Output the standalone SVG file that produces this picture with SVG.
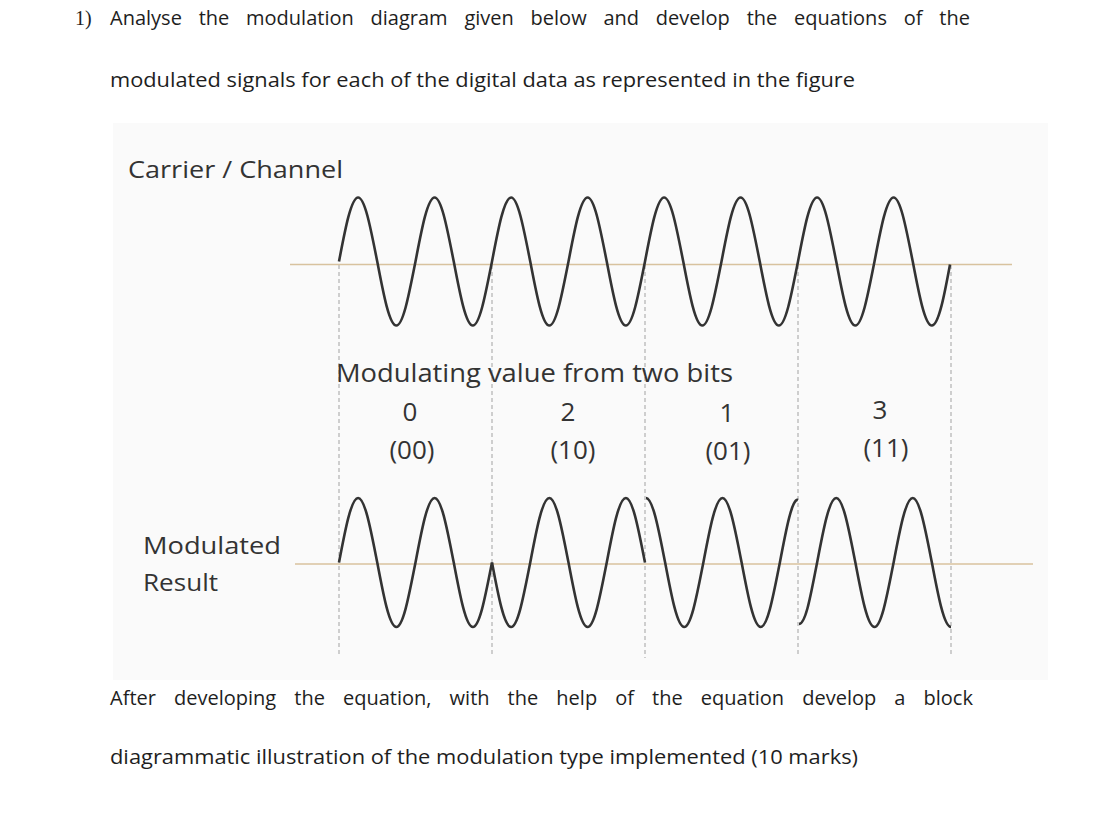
<svg xmlns="http://www.w3.org/2000/svg" width="1120" height="840" viewBox="0 0 1120 840">
<style>
.q{font-family:"Open Sans","Liberation Sans",sans-serif;font-size:20px;fill:#1e1e1e}
.lbl{font-family:"Open Sans","Liberation Sans",sans-serif;font-size:24px;fill:#333333}
.num{font-family:"Open Sans","Liberation Sans",sans-serif;font-size:26px;fill:#333333;text-anchor:middle}
.wave{fill:none;stroke:#333;stroke-width:2.6;stroke-linejoin:round;stroke-linecap:butt}
.axis{stroke:#d8c29e;stroke-width:1.6}
.div{stroke:#c4c4c4;stroke-width:1.6;stroke-dasharray:4 3}
</style>
<rect width="1120" height="840" fill="#ffffff"/>
<g id="question">
<text x="75" y="25" style="font-family:'Liberation Serif',serif;font-size:20px;fill:#1e1e1e">1)</text>
<text class="q" x="110" y="25" word-spacing="11.6">Analyse the modulation diagram given below and develop the equations of the</text>
<text class="q" x="110" y="87" textLength="745" lengthAdjust="spacingAndGlyphs">modulated signals for each of the digital data as represented in the figure</text>
<text class="q" x="110" y="705" word-spacing="12.9">After developing the equation, with the help of the equation develop a block</text>
<text class="q" x="110" y="764" textLength="748" lengthAdjust="spacingAndGlyphs">diagrammatic illustration of the modulation type implemented (10 marks)</text>
</g>
<rect id="panel" x="113" y="123" width="935" height="557" fill="#fafafa"/>
<g id="dividers">
<line class="div" x1="339" y1="265" x2="339" y2="657"/>
<line class="div" x1="492" y1="265" x2="492" y2="655"/>
<line class="div" x1="645" y1="265" x2="645" y2="658"/>
<line class="div" x1="798" y1="265" x2="798" y2="657"/>
<line class="div" x1="951" y1="265" x2="951" y2="654"/>
</g>
<g id="axes">
<line class="axis" x1="290" y1="264.5" x2="1012" y2="264.5"/>
<line class="axis" x1="295" y1="564" x2="1033" y2="564"/>
</g>
<g id="carrier">
<path class="wave" d="M339,261.5 c6.237,-32.79 12.203,-64 19.125,-64 6.922,0 12.888,32.79 19.125,64 6.237,32.79 12.203,64 19.125,64 6.922,0 12.888,-32.79 19.125,-64
6.237,-32.79 12.203,-64 19.125,-64 6.922,0 12.888,32.79 19.125,64 6.237,32.79 12.203,64 19.125,64 6.922,0 12.888,-32.79 19.125,-64
6.237,-32.79 12.203,-64 19.125,-64 6.922,0 12.888,32.79 19.125,64 6.237,32.79 12.203,64 19.125,64 6.922,0 12.888,-32.79 19.125,-64
6.237,-32.79 12.203,-64 19.125,-64 6.922,0 12.888,32.79 19.125,64 6.237,32.79 12.203,64 19.125,64 6.922,0 12.888,-32.79 19.125,-64
6.237,-32.79 12.203,-64 19.125,-64 6.922,0 12.888,32.79 19.125,64 6.237,32.79 12.203,64 19.125,64 6.922,0 12.888,-32.79 19.125,-64
6.237,-32.79 12.203,-64 19.125,-64 6.922,0 12.888,32.79 19.125,64 6.237,32.79 12.203,64 19.125,64 6.922,0 12.888,-32.79 19.125,-64
6.237,-32.79 12.203,-64 19.125,-64 6.922,0 12.888,32.79 19.125,64 6.237,32.79 12.203,64 19.125,64 6.922,0 12.888,-32.79 19.125,-64
6.237,-32.79 12.203,-64 19.125,-64 6.922,0 12.888,32.79 19.125,64 6.237,32.79 12.203,64 19.125,64 6.922,0 12.888,-32.79 18.125,-61"/>
</g>
<g id="modulated">
<path class="wave" d="M339,562.5 c6.237,-33.04 12.203,-64.5 19.125,-64.5 6.922,0 12.888,33.04 19.125,64.5 6.237,33.04 12.203,64.5 19.125,64.5 6.922,0 12.888,-33.04 19.125,-64.5 6.237,-33.04 12.203,-64.5 19.125,-64.5 6.922,0 12.888,33.04 19.125,64.5 6.237,33.04 12.203,64.5 19.125,64.5 6.922,0 12.888,-33.04 19.125,-64.5"/>
<path class="wave" d="M492,562.5 c6.237,33.04 12.203,64.5 19.125,64.5 6.922,0 12.888,-33.04 19.125,-64.5 6.237,-33.04 12.203,-64.5 19.125,-64.5 6.922,0 12.888,33.04 19.125,64.5 6.237,33.04 12.203,64.5 19.125,64.5 6.922,0 12.888,-33.04 19.125,-64.5 6.237,-33.04 12.203,-64.5 19.125,-64.5 6.922,0 12.888,33.04 19.125,64.5"/>
<path class="wave" d="M646,498 c6.922,0 12.888,33.04 19.125,64.5 6.237,33.04 12.203,64.5 19.125,64.5 6.922,0 12.888,-33.04 19.125,-64.5 6.237,-33.04 12.203,-64.5 19.125,-64.5 6.922,0 12.888,33.04 19.125,64.5 6.237,33.04 12.203,64.5 19.125,64.5 6.922,0 12.888,-33.04 19.125,-64.5 6.237,-33.04 12.203,-64.5 18.125,-62.5"/>
<path class="wave" d="M799,624 c6.922,0 11.888,-30.04 18.125,-61.5 6.237,-33.04 12.203,-64.5 19.125,-64.5 6.922,0 12.888,33.04 19.125,64.5 6.237,33.04 12.203,64.5 19.125,64.5 6.922,0 12.888,-33.04 19.125,-64.5 6.237,-33.04 12.203,-64.5 19.125,-64.5 6.922,0 12.888,33.04 19.125,64.5 6.237,33.04 12.203,64.5 19.125,64.5"/>
</g>
<g id="labels">
<text class="lbl" x="128" y="178" textLength="215" lengthAdjust="spacingAndGlyphs">Carrier / Channel</text>
<text class="lbl" x="336" y="382" textLength="397" lengthAdjust="spacingAndGlyphs" style="font-size:25px">Modulating value from two bits</text>
<text class="num" x="410" y="421">0</text>
<text class="num" x="412" y="459">(00)</text>
<text class="num" x="568" y="421">2</text>
<text class="num" x="573" y="459">(10)</text>
<text class="num" x="727" y="422">1</text>
<text class="num" x="728" y="460">(01)</text>
<text class="num" x="880" y="419">3</text>
<text class="num" x="886" y="457">(11)</text>
<text class="lbl" x="143" y="554" textLength="138" lengthAdjust="spacingAndGlyphs">Modulated</text>
<text class="lbl" x="143" y="591" textLength="75" lengthAdjust="spacingAndGlyphs">Result</text>
</g>
</svg>
